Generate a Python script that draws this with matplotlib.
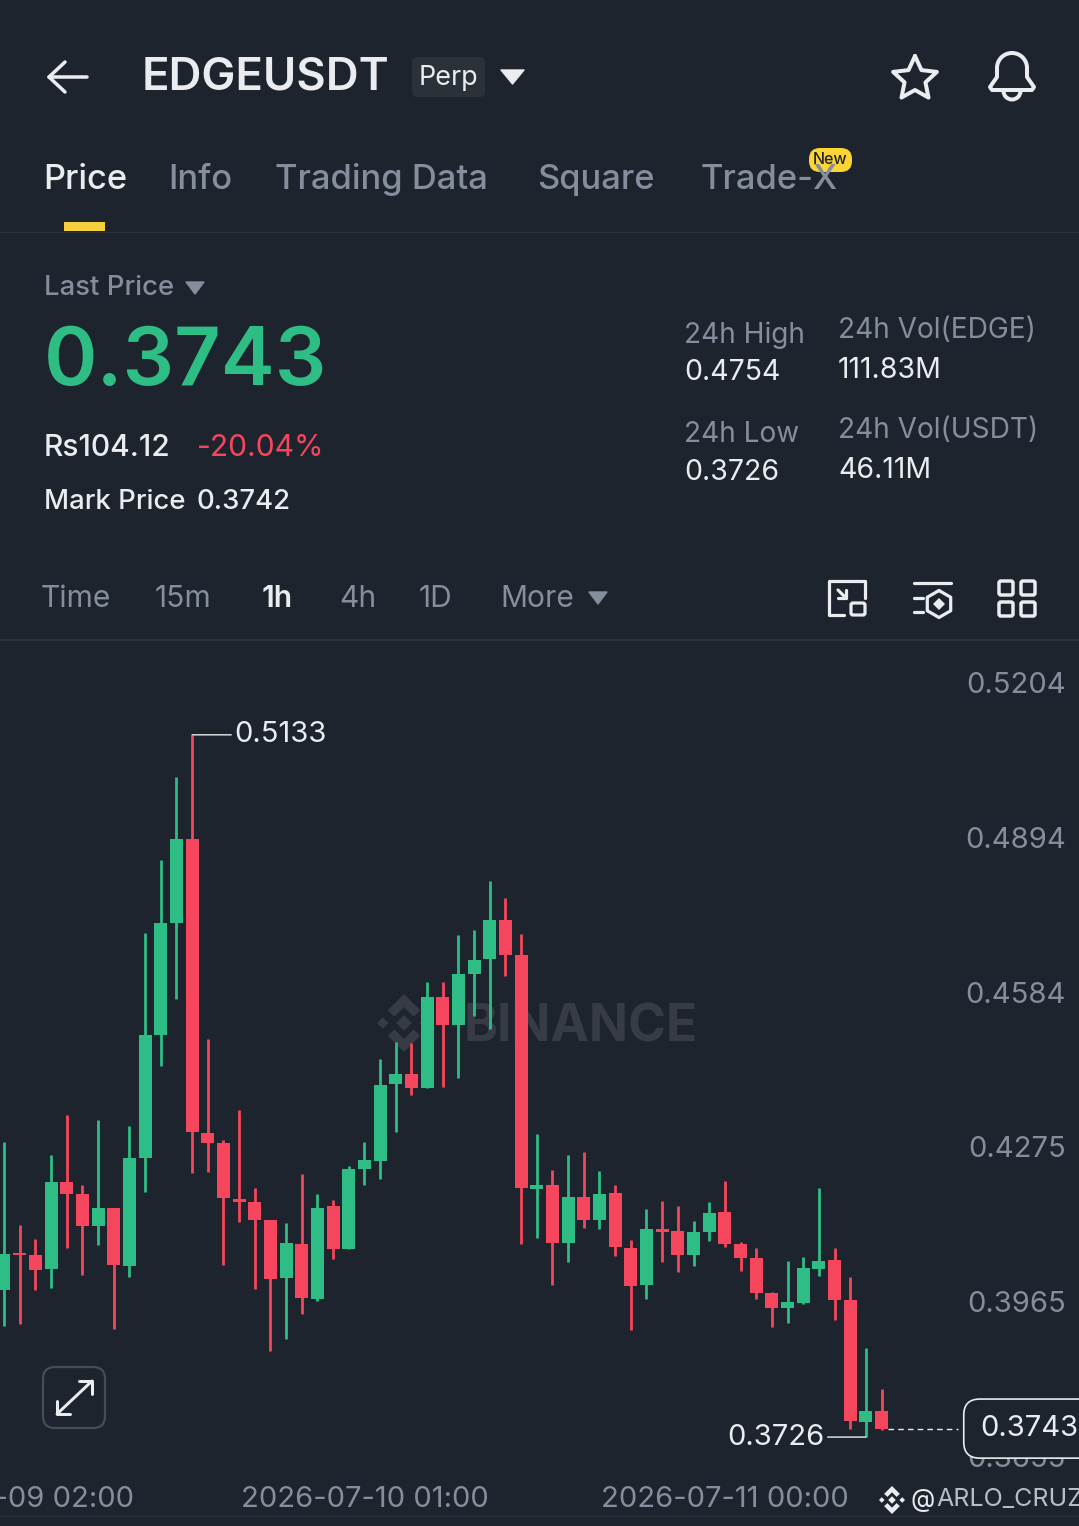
import numpy as np
import matplotlib
matplotlib.use('Agg')
import matplotlib.pyplot as plt
from matplotlib.patches import FancyBboxPatch, Polygon, Rectangle, Arc

# 1h candles, left to right
opens = [.4020, .4095, .4090, .4063, .4238, .4213, .4149, .4184, .4069, .4285,
         .4532, .4755, .4925, .4336, .4315, .4204, .4197, .4160, .4045, .4113,
         .4002, .4188, .4102, .4263, .4280, .4434, .4454, .4426, .4608, .4552,
         .4654, .4683, .4762, .4692, .4223, .4231, .4114, .4207, .4160, .4215,
         .4105, .4031, .4143, .4138, .4090, .4137, .4176, .4112, .4085, .4015,
         .3985, .3995, .4063, .4080, .4001, .3756, .3778]
closes = [.4093, .4090, .4061, .4238, .4213, .4149, .4184, .4070, .4285, .4532,
          .4756, .4925, .4338, .4316, .4206, .4197, .4160, .4042, .4114, .4004,
          .4184, .4102, .4263, .4281, .4432, .4454, .4426, .4608, .4552, .4654,
          .4682, .4762, .4692, .4225, .4231, .4114, .4207, .4160, .4214, .4106,
          .4029, .4143, .4137, .4090, .4137, .4174, .4112, .4085, .4014, .3985,
          .3996, .4065, .4078, .4001, .3759, .3779, .3743]
highs = [.4317, .4151, .4123, .4291, .4371, .4232, .4362, .4184, .4350, .4736,
         .4883, .5049, .5133, .4524, .4321, .4382, .4225, .4160, .4155, .4254,
         .4214, .4200, .4269, .4317, .4483, .4518, .4515, .4638, .4638, .4732,
         .4742, .4840, .4806, .4734, .4333, .4261, .4291, .4297, .4259, .4231,
         .4121, .4183, .4199, .4189, .4158, .4197, .4240, .4116, .4104, .4017,
         .4079, .4086, .4225, .4104, .4046, .3904, .3822]
lows = [.3948, .3952, .4020, .4024, .4104, .4051, .4110, .3943, .4047, .4218,
        .4469, .4603, .4255, .4258, .4070, .4157, .4023, .3898, .3922, .3972,
        .3998, .4082, .4102, .4231, .4243, .4338, .4412, .4426, .4428, .4445,
        .4570, .4544, .4650, .4112, .4124, .4031, .4077, .4145, .4142, .4089,
        .3940, .4002, .4077, .4056, .4069, .4118, .4107, .4058, .4002, .3946,
        .3954, .3993, .4049, .3961, .3743, .3726, .3741]

price_ticks = [0.5204, 0.4894, 0.4584, 0.4275, 0.3965, 0.3655]
time_idx = [0, 23, 46]
time_labels = ['2026-07-09 02:00', '2026-07-10 01:00', '2026-07-11 00:00']
high_idx, high_val = 12, 0.5133
low_idx, low_val = 55, 0.3726
last_idx, last_val = 56, 0.3743

stats = [(684, 335, '24h High', 373, '0.4754'), (684, 434, '24h Low', 473, '0.3726'),
         (838, 331, '24h Vol(EDGE)', 370, '111.83M'), (838, 431, '24h Vol(USDT)', 470, '46.11M')]
tabs = [(43, 'Price'), (168, 'Info'), (275, 'Trading Data'), (537, 'Square'), (701, 'Trade-X')]
intervals = [(41, 'Time'), (155, '15m'), (262, '1h'), (339, '4h'), (419, '1D'), (500, 'More')]

BG = '#1E242E'
GREEN = '#2EBD85'
RED = '#F6465D'
GREY = '#848E9C'
WHITE = '#EAECEF'
LINE = '#2B3139'
YELLOW = '#FCD535'

plt.rcParams['font.family'] = ['Inter', 'DejaVu Sans']

W, H = 1079, 1526
fig = plt.figure(figsize=(W / 100, H / 100), dpi=100, facecolor=BG)

# screen furniture, in pixel coordinates
ui = fig.add_axes([0, 0, 1, 1], zorder=0)
ui.set_xlim(0, W)
ui.set_ylim(H, 0)
ui.axis('off')


def label(x, y, s, px, color=WHITE, ha='left', weight='normal'):
    ui.text(x, y, s, fontsize=px * 0.72, color=color, ha=ha, va='center', fontweight=weight)


def stroke(xs, ys, color=WHITE, lw=3.2):
    ui.plot(xs, ys, color=color, lw=lw * 0.72, solid_capstyle='round', solid_joinstyle='round')


def box(x0, y0, x1, y1, r, **kw):
    ui.add_patch(FancyBboxPatch((x0 + r, y0 + r), x1 - x0 - 2 * r, y1 - y0 - 2 * r,
                                boxstyle='round,pad=%f,rounding_size=%f' % (r, r), **kw))


def tri(x0, x1, y0, y1, color):
    ui.add_patch(Polygon([(x0, y0), (x1, y0), ((x0 + x1) / 2, y1)], closed=True, fc=color, ec=color, lw=1, joinstyle='round'))


def binance_logo(cx, cy, r, color):
    for dx, dy, s in [(0, 0, .27), (-.73, 0, .2), (.73, 0, .2)]:
        ui.add_patch(Polygon([(cx + (dx - s) * r, cy + dy * r), (cx + dx * r, cy - s * r),
                              (cx + (dx + s) * r, cy), (cx + dx * r, cy + s * r)], fc=color, ec='none'))
    for sign in (-1, 1):
        pts = [(0, 1), (.56, .44), (.33, .22), (0, .55), (-.33, .22), (-.56, .44)]
        ui.add_patch(Polygon([(cx + a * r, cy + sign * b * r) for a, b in pts], fc=color, ec='none'))


# header
stroke([87, 49], [77, 77], lw=3.5)
stroke([65, 49, 65], [62, 77, 92], lw=3.5)
label(142, 78, 'EDGEUSDT', 45.5, weight='semibold')
box(412, 57, 485, 97, 5, fc='#2B3139', ec='none')
label(448.5, 78, 'Perp', 27, ha='center')
tri(501, 524, 70, 84, WHITE)

# star and bell
ang = np.deg2rad(np.arange(11) * 36 - 90)
rad = np.where(np.arange(11) % 2 == 0, 23, 11)
stroke(915 + rad * np.cos(ang), 79 + rad * np.sin(ang), lw=4)
ui.add_patch(Arc((1012, 68), 30, 30, theta1=180, theta2=360, ec=WHITE, lw=4 * .72))
stroke([997, 997, 990, 992, 1032, 1034, 1027, 1027], [68, 77, 87, 90, 90, 87, 77, 68], lw=4)
ui.add_patch(Arc((1012, 91), 17, 17, theta1=0, theta2=180, ec=WHITE, lw=4 * .72))

# tabs
for i, (x, s) in enumerate(tabs):
    label(x, 180, s, 34.5, WHITE if i == 0 else GREY, weight='medium')
ui.add_patch(Rectangle((64, 222), 41, 9, fc='#F5CF3C', ec='none'))
ui.plot([0, W], [231.5, 231.5], color=LINE, lw=1)
box(809, 148, 852, 172, 11, fc=YELLOW, ec='none')
label(830.5, 160, 'New', 16, '#1E2329', ha='center', weight='medium')

# price block
label(44, 288, 'Last Price', 27.5, GREY, weight='medium')
tri(186, 204, 282, 294, GREY)
label(44, 364, '0.3743', 81, GREEN, weight='semibold')
label(44, 448, 'Rs104.12', 30, WHITE, weight='medium')
label(197, 448, '-20.04%', 30, RED)
label(44, 502, 'Mark Price', 27.5, WHITE, weight='medium')
label(197, 502, '0.3742', 27.5, WHITE, weight='medium')
for x, y0, a, y1, b in stats:
    label(x, y0, a, 28, GREY)
    label(x, y1, b, 28.5, WHITE)

# interval row
for x, s in intervals:
    if s == '1h':
        label(x, 599, s, 30, WHITE, weight='semibold')
    else:
        label(x, 599, s, 30, GREY)
tri(589, 607, 592, 604, GREY)
ui.plot([0, W], [640, 640], color=LINE, lw=1.5)

# toolbar icons
stroke([865, 865, 829, 829, 844], [598, 581, 581, 615, 615])
box(851, 603, 865, 615, 2, fc='none', ec=WHITE, lw=2.3)
stroke([838, 846], [590, 598])
stroke([838, 846, 846], [598, 598, 590])
stroke([914, 951], [583, 583])
stroke([914, 923], [598, 598])
stroke([914, 923], [612, 612])
ang = np.deg2rad(np.arange(7) * 60 - 90)
stroke(939 + 13.5 * np.cos(ang), 604 + 13.5 * np.sin(ang))
ui.add_patch(Polygon([(933, 604), (939, 598), (945, 604), (939, 610)], fc=WHITE, ec='none'))
for x0 in (999, 1021):
    for y0 in (581, 602):
        box(x0, y0, x0 + 14, y0 + 14, 2, fc='none', ec=WHITE, lw=2.5)

# watermark sits behind the candles
binance_logo(404, 1023, 29, '#363B45')
ui.text(581, 1028, 'BINANCE', fontsize=37, color='#363B45', ha='center', va='center', fontweight='bold')

# expand button
box(43, 1367, 105, 1428, 12, fc='none', ec='#474D57', lw=1.6)
stroke([57, 92], [1414, 1381], lw=3)
stroke([79, 92, 92], [1381, 1381, 1394], lw=3)
stroke([57, 57, 70], [1401, 1414, 1414], lw=3)

# footer
binance_logo(892, 1500, 14, WHITE)
label(911, 1500, '@', 25, WHITE)
label(936, 1500, 'ARLO_CRUZ', 25, '#B7BDC6')
ui.plot([0, W], [1516, 1516], color=LINE, lw=1)

# candlesticks on a real price / index scale
ax = fig.add_axes([0, (H - 1480) / H, 1, (1480 - 640) / H], zorder=1)
ax.patch.set_alpha(0)
ax.set_xlim(-0.255, 68.6)
ax.set_ylim(0.3640, 0.5323)
for s in ax.spines.values():
    s.set_visible(False)

idx = np.arange(len(opens))
o, c, h, l = map(np.array, (opens, closes, highs, lows))
colors = [GREEN if b >= a else RED for a, b in zip(o, c)]
ax.vlines(idx, l, h, colors=colors, lw=2.0, zorder=2)
ax.bar(idx, np.abs(c - o), bottom=np.minimum(o, c), width=0.83, color=colors, zorder=3)

ax.yaxis.tick_right()
ax.set_yticks(price_ticks)
ax.set_yticklabels(['%.4f' % v for v in price_ticks], ha='right', va='bottom')
ax.tick_params(axis='y', length=0, pad=-9.4, labelsize=21, labelcolor=GREY)
ax.set_xticks(time_idx)
ax.set_xticklabels(time_labels)
ax.tick_params(axis='x', length=0, pad=4, labelsize=21, labelcolor=GREY)

# high / low / last price callouts
px = 0.72
ax.annotate('%.4f' % high_val, xy=(high_idx, high_val), xytext=(42 * px, 0), textcoords='offset points',
            va='center', ha='left', fontsize=21, color=WHITE,
            arrowprops=dict(arrowstyle='-', color=WHITE, lw=1, shrinkA=0, shrinkB=0))
ax.annotate('%.4f' % low_val, xy=(low_idx, low_val), xytext=(-41 * px, 0), textcoords='offset points',
            va='center', ha='right', fontsize=21, color=WHITE,
            arrowprops=dict(arrowstyle='-', color=WHITE, lw=1, shrinkA=0, shrinkB=0))
ax.hlines(last_val, last_idx + 0.4, 60.85, colors=WHITE, lw=1, linestyles=(0, (4, 3)), zorder=4)
ax.text(65.4, last_val, '%.4f' % last_val, fontsize=21, color=WHITE, ha='center', va='center', zorder=6,
        bbox=dict(boxstyle='round,pad=0.55,rounding_size=0.55', fc=BG, ec=WHITE, lw=1.2))

fig.savefig('out.png', dpi=100, facecolor=BG)
